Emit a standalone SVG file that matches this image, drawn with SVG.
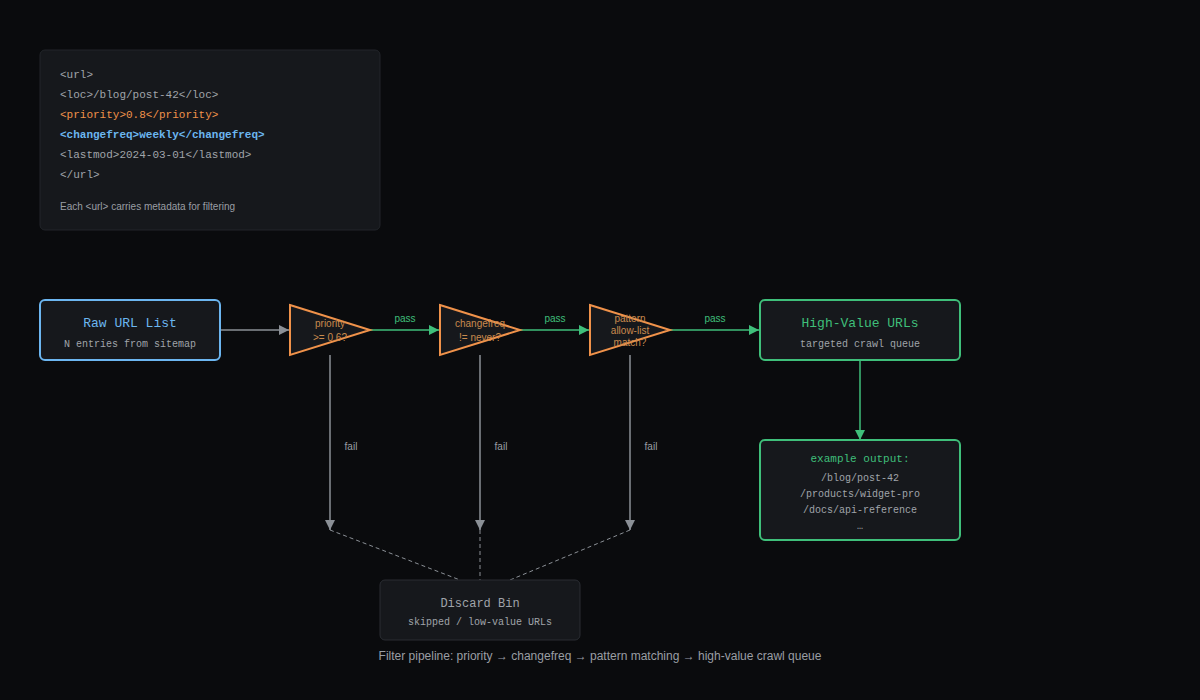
<svg xmlns="http://www.w3.org/2000/svg" width="1200" height="700" viewBox="0 0 1200 700">
<style>
.mono{font-family:"Liberation Mono","DejaVu Sans Mono",monospace}
.sans{font-family:"Liberation Sans",Arial,sans-serif}
.box{fill:#16181c;stroke-width:2}
.tri{fill:#16181c;stroke:#f0924a;stroke-width:2}
.tt{fill:#c98a4e;font-size:10px;text-anchor:middle}
.lbl{font-size:10px;text-anchor:middle}
</style>
<defs>
<marker id="ag" viewBox="0 0 10 10" refX="10" refY="5" markerWidth="14" markerHeight="10" markerUnits="userSpaceOnUse" orient="auto"><path d="M0,0L10,5L0,10z" fill="#3fbf7a"/></marker>
<marker id="gr" viewBox="0 0 10 10" refX="10" refY="5" markerWidth="14" markerHeight="10" markerUnits="userSpaceOnUse" orient="auto"><path d="M0,0L10,5L0,10z" fill="#8b9096"/></marker>
</defs>
<rect width="1200" height="700" fill="#0a0b0d"/>
<g id="xml-note">
<rect x="40" y="50" width="340" height="180" rx="5" fill="#16181c" stroke="#22252a"/>
<g class="mono" font-size="11">
<text x="60" y="78" fill="#a0a4aa">&lt;url&gt;</text>
<text x="60" y="98" fill="#a0a4aa">&lt;loc&gt;/blog/post-42&lt;/loc&gt;</text>
<text x="60" y="118" fill="#f0924a">&lt;priority&gt;0.8&lt;/priority&gt;</text>
<text x="60" y="138" fill="#6cb6f0" font-weight="bold">&lt;changefreq&gt;weekly&lt;/changefreq&gt;</text>
<text x="60" y="158" fill="#a0a4aa">&lt;lastmod&gt;2024-03-01&lt;/lastmod&gt;</text>
<text x="60" y="178" fill="#a0a4aa">&lt;/url&gt;</text>
</g>
<text class="sans" x="60" y="210" font-size="10" fill="#9a9ea4">Each &lt;url&gt; carries metadata for filtering</text>
</g>
<g id="connectors" fill="none" stroke-width="1.5">
<line x1="220" y1="330" x2="289" y2="330" stroke="#8b9096" marker-end="url(#gr)"/>
<line x1="370" y1="330" x2="439" y2="330" stroke="#3fbf7a" marker-end="url(#ag)"/>
<line x1="520" y1="330" x2="589" y2="330" stroke="#3fbf7a" marker-end="url(#ag)"/>
<line x1="670" y1="330" x2="759" y2="330" stroke="#3fbf7a" marker-end="url(#ag)"/>
<line x1="860" y1="360" x2="860" y2="440" stroke="#3fbf7a" marker-end="url(#ag)"/>
<line x1="330" y1="355" x2="330" y2="530" stroke="#8b9096" marker-end="url(#gr)"/>
<line x1="480" y1="355" x2="480" y2="530" stroke="#8b9096" marker-end="url(#gr)"/>
<line x1="630" y1="355" x2="630" y2="530" stroke="#8b9096" marker-end="url(#gr)"/>
<g stroke="#8b9096" stroke-width="1" stroke-dasharray="4,3">
<line x1="330" y1="530" x2="460" y2="580"/>
<line x1="480" y1="530" x2="480" y2="580"/>
<line x1="630" y1="530" x2="510" y2="580"/>
</g>
<g class="sans lbl" stroke="none">
<text x="405" y="322" fill="#3fbf7a">pass</text>
<text x="555" y="322" fill="#3fbf7a">pass</text>
<text x="715" y="322" fill="#3fbf7a">pass</text>
<text x="351" y="450" fill="#9a9ea4">fail</text>
<text x="501" y="450" fill="#9a9ea4">fail</text>
<text x="651" y="450" fill="#9a9ea4">fail</text>
</g>
</g>
<g id="raw">
<rect class="box" x="40" y="300" width="180" height="60" rx="5" stroke="#6cb6f0"/>
<text class="mono" x="130" y="327" font-size="13" fill="#6cb6f0" text-anchor="middle">Raw URL List</text>
<text class="mono" x="130" y="347" font-size="10" fill="#a0a4aa" text-anchor="middle">N entries from sitemap</text>
</g>
<g id="f1"><polygon class="tri" points="290,305 370,330 290,355"/>
<text class="sans tt" x="330" y="327">priority</text><text class="sans tt" x="330" y="341">&gt;= 0.6?</text></g>
<g id="f2"><polygon class="tri" points="440,305 520,330 440,355"/>
<text class="sans tt" x="480" y="327">changefreq</text><text class="sans tt" x="480" y="341">!= never?</text></g>
<g id="f3"><polygon class="tri" points="590,305 670,330 590,355"/>
<text class="sans tt" x="630" y="322">pattern</text><text class="sans tt" x="630" y="334">allow-list</text><text class="sans tt" x="630" y="346">match?</text></g>
<g id="hv">
<rect class="box" x="760" y="300" width="200" height="60" rx="5" stroke="#3fbf7a"/>
<text class="mono" x="860" y="327" font-size="13" fill="#3fbf7a" text-anchor="middle">High-Value URLs</text>
<text class="mono" x="860" y="347" font-size="10" fill="#a0a4aa" text-anchor="middle">targeted crawl queue</text>
</g>
<g id="example">
<rect class="box" x="760" y="440" width="200" height="100" rx="5" stroke="#3fbf7a"/>
<g class="mono" font-size="10" text-anchor="middle" fill="#a0a4aa">
<text x="860" y="462" font-size="11" fill="#3fbf7a">example output:</text>
<text x="860" y="481">/blog/post-42</text>
<text x="860" y="497">/products/widget-pro</text>
<text x="860" y="513">/docs/api-reference</text>
<text x="860" y="529">…</text>
</g>
</g>
<g id="discard">
<rect x="380" y="580" width="200" height="60" rx="5" fill="#16181c" stroke="#2a2d33"/>
<text class="mono" x="480" y="607" font-size="12" fill="#a0a4aa" text-anchor="middle">Discard Bin</text>
<text class="mono" x="480" y="625" font-size="10" fill="#a0a4aa" text-anchor="middle">skipped / low-value URLs</text>
</g>
<text class="sans" x="600" y="660" font-size="12" fill="#9a9ea4" text-anchor="middle">Filter pipeline: priority → changefreq → pattern matching → high-value crawl queue</text>
</svg>
